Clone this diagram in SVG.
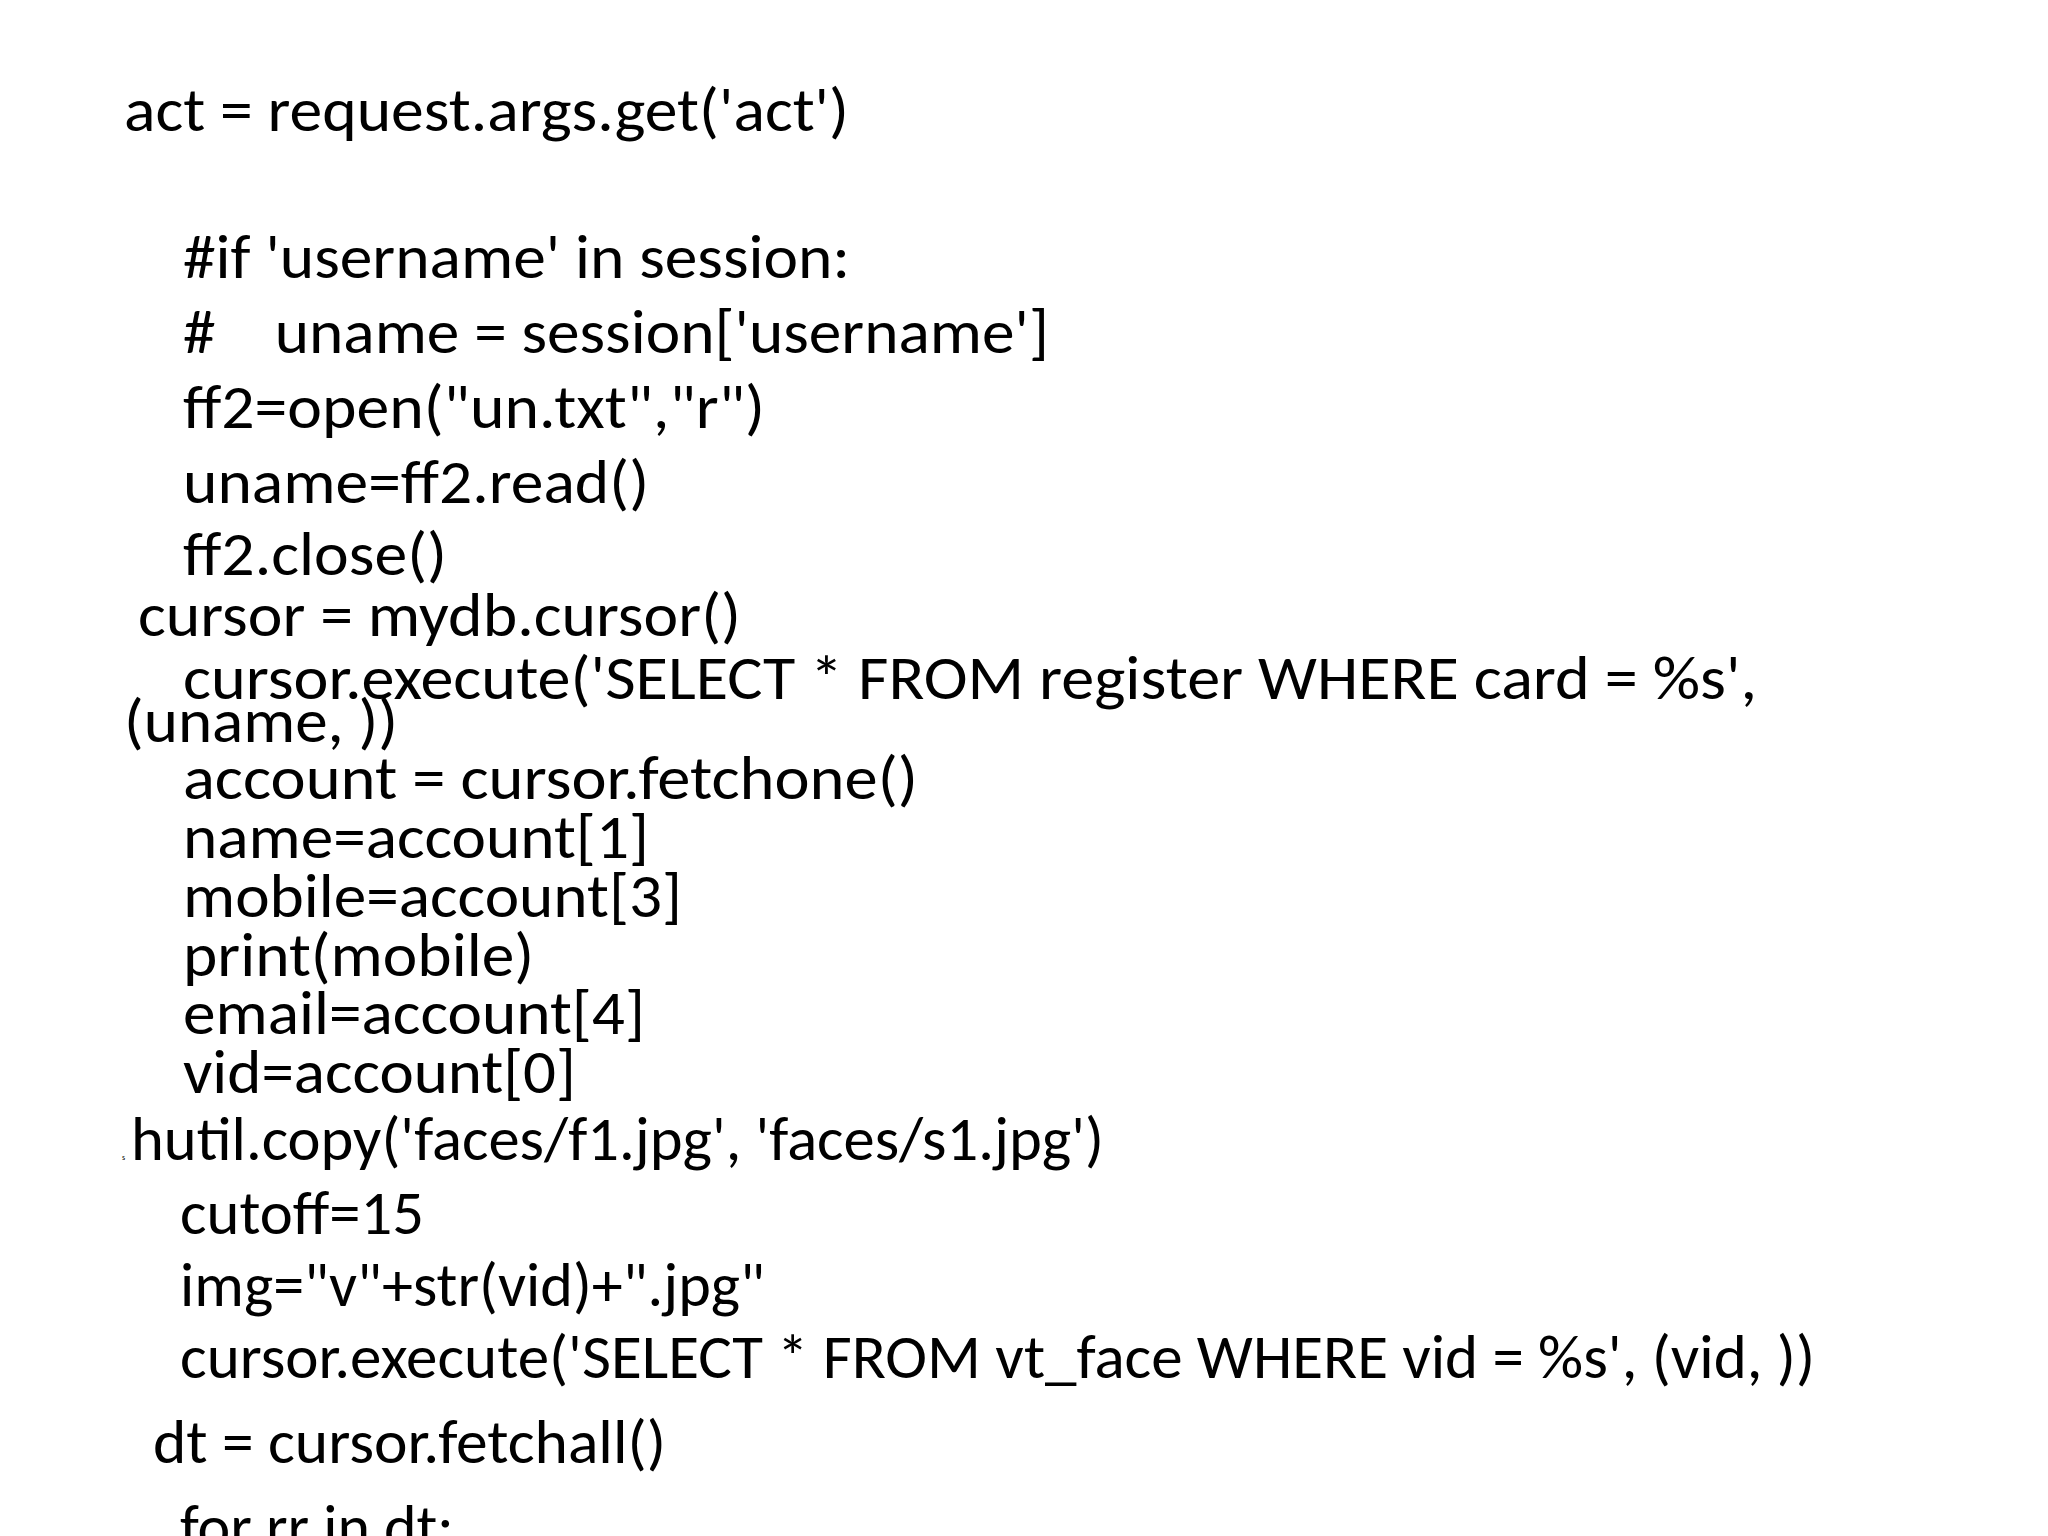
<svg xmlns="http://www.w3.org/2000/svg" width="2048" height="1536" viewBox="0 0 2048 1536">
<style>
text{font-family:"Carlito","Lato","Liberation Sans",sans-serif;font-size:62px;fill:#000;white-space:pre}
</style>
<rect width="2048" height="1536" fill="#fff"/>
<text x="124" y="131" textLength="725" lengthAdjust="spacingAndGlyphs">act = request.args.get('act')</text>
<text x="183" y="278" textLength="667" lengthAdjust="spacingAndGlyphs">#if 'username' in session:</text>
<text x="183" y="353" textLength="866" lengthAdjust="spacingAndGlyphs">#    uname = session['username']</text>
<text x="183" y="428" textLength="582" lengthAdjust="spacingAndGlyphs">ff2=open("un.txt","r")</text>
<text x="183" y="503" textLength="466" lengthAdjust="spacingAndGlyphs">uname=ff2.read()</text>
<text x="183" y="575" textLength="264" lengthAdjust="spacingAndGlyphs">ff2.close()</text>
<text x="138" y="636" textLength="603" lengthAdjust="spacingAndGlyphs">cursor = mydb.cursor()</text>
<text x="183" y="699" textLength="1574" lengthAdjust="spacingAndGlyphs">cursor.execute('SELECT * FROM register WHERE card = %s',</text>
<text x="124" y="742" textLength="274" lengthAdjust="spacingAndGlyphs">(uname, ))</text>
<text x="183" y="799" textLength="735" lengthAdjust="spacingAndGlyphs">account = cursor.fetchone()</text>
<text x="183" y="858" textLength="466" lengthAdjust="spacingAndGlyphs">name=account[1]</text>
<text x="183" y="917" textLength="499" lengthAdjust="spacingAndGlyphs">mobile=account[3]</text>
<text x="183" y="976" textLength="351" lengthAdjust="spacingAndGlyphs">print(mobile)</text>
<text x="183" y="1034" textLength="462" lengthAdjust="spacingAndGlyphs">email=account[4]</text>
<text x="183" y="1093" textLength="393" lengthAdjust="spacingAndGlyphs">vid=account[0]</text>
<text x="122" y="1160" style="font-size:8px">s</text>
<text x="131" y="1160" textLength="973" lengthAdjust="spacingAndGlyphs">hutil.copy('faces/f1.jpg', 'faces/s1.jpg')</text>
<text x="180" y="1234" textLength="244" lengthAdjust="spacingAndGlyphs">cutoff=15</text>
<text x="180" y="1306" textLength="585" lengthAdjust="spacingAndGlyphs">img="v"+str(vid)+".jpg"</text>
<text x="180" y="1378" textLength="1635" lengthAdjust="spacingAndGlyphs">cursor.execute('SELECT * FROM vt_face WHERE vid = %s', (vid, ))</text>
<text x="153" y="1463" textLength="513" lengthAdjust="spacingAndGlyphs">dt = cursor.fetchall()</text>
<text x="180" y="1548">for rr in dt:</text>
</svg>
